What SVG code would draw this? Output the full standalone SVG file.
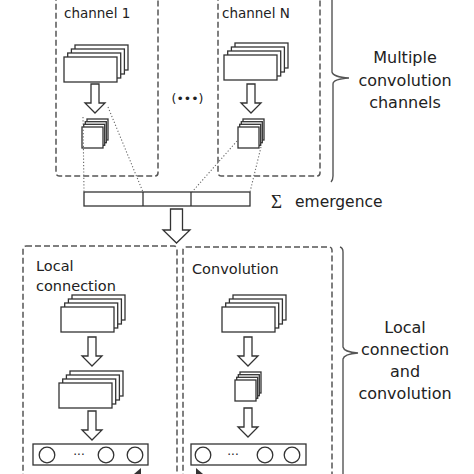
<svg xmlns="http://www.w3.org/2000/svg" xmlns:xlink="http://www.w3.org/1999/xlink" width="474" height="474" viewBox="0 0 474 474">
<style>
.box{fill:none;stroke:#555;stroke-width:1.5;stroke-dasharray:6 3}
.sh{fill:#fff;stroke:#333;stroke-width:1.3}
.dot{fill:none;stroke:#666;stroke-width:1.1;stroke-dasharray:1.2 2}
.br{fill:none;stroke:#555;stroke-width:1.4}
.t{font-family:"DejaVu Sans",sans-serif;fill:#222}
</style>
<defs>
<g id="stack">
<rect class="sh" x="11" y="-12" width="53" height="25"/>
<rect class="sh" x="7.4" y="-8" width="53" height="25"/>
<rect class="sh" x="3.7" y="-4" width="53" height="25"/>
<rect class="sh" x="0" y="0" width="53" height="25"/>
</g>
<g id="cube">
<rect class="sh" x="5" y="-8" width="21" height="21"/>
<rect class="sh" x="3.3" y="-5.3" width="21" height="21"/>
<rect class="sh" x="1.7" y="-2.7" width="21" height="21"/>
<rect class="sh" x="0" y="0" width="21" height="21"/>
</g>
<path id="arr" class="sh" d="M-4,0 V19 H-10 L0,29 L10,19 H4 V0 Z"/>
</defs>

<g id="channel1">
<rect class="box" x="56" y="-10" width="102" height="186" rx="3"/>
<text class="t" x="64" y="18" font-size="13.5">channel 1</text>
<use xlink:href="#stack" x="64" y="57"/>
<use xlink:href="#arr" x="95" y="84"/>
<use xlink:href="#cube" x="82" y="127"/>
</g>

<g id="channelN">
<rect class="box" x="218" y="-10" width="102" height="186" rx="3"/>
<text class="t" x="222" y="18" font-size="13.5">channel N</text>
<use xlink:href="#stack" x="224" y="55"/>
<use xlink:href="#arr" x="251" y="84"/>
<use xlink:href="#cube" x="238" y="127"/>
</g>

<text id="ellipsis" class="t" x="187.5" y="103" font-size="12.5" text-anchor="middle">(•••)</text>

<g id="multi-label">
<path class="br" d="M332,-20 V72 Q333,77 349,78 Q333,79 333,84 V176 Q333,180 331,182"/>
<text class="t" font-size="16" text-anchor="middle"><tspan x="405" y="63">Multiple</tspan><tspan x="405" y="86">convolution</tspan><tspan x="405" y="108">channels</tspan></text>
</g>

<g id="emergence">
<rect class="sh" x="84" y="192" width="166" height="14"/>
<line class="sh" x1="143" y1="192" x2="143" y2="206"/>
<line class="sh" x1="191" y1="192" x2="191" y2="206"/>
<text class="t" y="208"><tspan x="271" font-size="19" font-family="Liberation Serif, serif">Σ</tspan><tspan x="295" y="207" font-size="15.5">emergence</tspan></text>
</g>

<g id="connectors">
<line class="dot" x1="83" y1="117" x2="84" y2="192"/>
<line class="dot" x1="108" y1="107" x2="143" y2="192"/>
<line class="dot" x1="237" y1="141" x2="192" y2="192"/>
<line class="dot" x1="261" y1="147" x2="250" y2="192"/>
<path class="sh" d="M170.5,209 V230 H163 L176.5,243 L190,230 H182.5 V209 Z"/>
<path d="M134,474 L141,468 L141,474 Z" fill="#333"/>
<path d="M196,474 L196,468 L203,474 Z" fill="#333"/>
</g>

<g id="local">
<rect class="box" x="23" y="246" width="154" height="250" rx="3"/>
<text class="t" font-size="14.5"><tspan x="36" y="271">Local</tspan><tspan x="36" y="291">connection</tspan></text>
<use xlink:href="#stack" x="61" y="307"/>
<use xlink:href="#arr" x="92" y="337"/>
<use xlink:href="#stack" x="59" y="383"/>
<use xlink:href="#arr" x="92" y="411"/>
<rect class="sh" x="33" y="444" width="115" height="21"/>
<circle class="sh" cx="47" cy="455" r="7.8"/>
<circle class="sh" cx="106" cy="455" r="7.8"/>
<circle class="sh" cx="135" cy="455" r="7.8"/>
<text class="t" x="79" y="459" font-size="12" text-anchor="middle">···</text>
</g>

<g id="convolution">
<rect class="box" x="183" y="247" width="149" height="250" rx="3"/>
<text class="t" x="192" y="274" font-size="14.5">Convolution</text>
<use xlink:href="#stack" x="222" y="307"/>
<use xlink:href="#arr" x="248" y="337"/>
<use xlink:href="#cube" x="235" y="380"/>
<use xlink:href="#arr" x="248" y="408"/>
<rect class="sh" x="191" y="444" width="115" height="21"/>
<circle class="sh" cx="203" cy="455" r="7.8"/>
<circle class="sh" cx="265" cy="455" r="7.8"/>
<circle class="sh" cx="292" cy="455" r="7.8"/>
<text class="t" x="233" y="459" font-size="12" text-anchor="middle">···</text>
</g>

<g id="local-label">
<path class="br" d="M340,247 Q343,248 343,252 V347 Q344,352 358,353 Q344,354 343,359 V480"/>
<text class="t" font-size="16" text-anchor="middle"><tspan x="405" y="333">Local</tspan><tspan x="405" y="355">connection</tspan><tspan x="405" y="377">and</tspan><tspan x="405" y="399">convolution</tspan></text>
</g>
</svg>
